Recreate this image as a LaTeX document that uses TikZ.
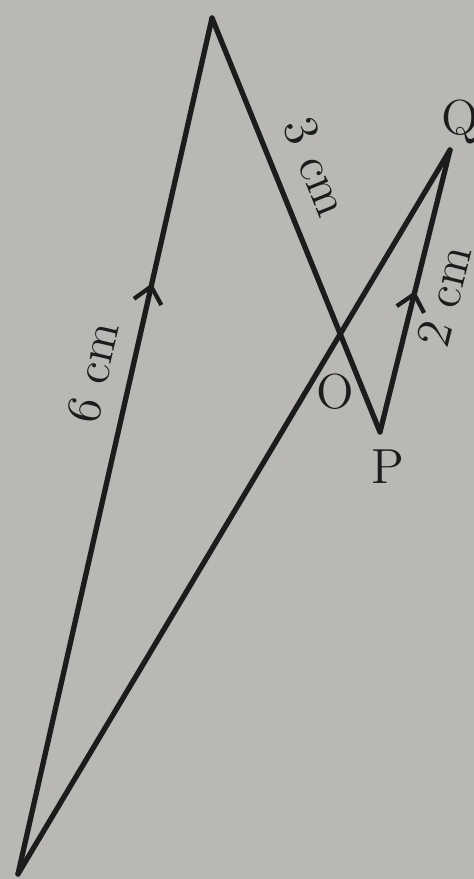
\documentclass[tikz,border=0pt]{standalone}
\usepackage{tikz}
\usetikzlibrary{arrows.meta,decorations.markings}

\definecolor{paper}{RGB}{186,184,181}
\definecolor{ink}{RGB}{28,28,28}

\tikzset{
  side/.style={ink, line width=1.5pt, line cap=round},
  midarrow/.style={postaction={decorate}, decoration={markings,
      mark=at position #1 with {\arrow{Straight Barb[length=4.5pt,width=8pt,line width=1.2pt]}}}},
  lbl/.style={text=ink, font=\fontsize{14}{17}\selectfont, inner sep=1pt}
}

\begin{document}
\begin{tikzpicture}[x=0.01cm, y=-0.01cm]
\fill[paper] (0,0) rectangle (474,879);
\useasboundingbox (0,0) rectangle (474,879);

% vertices
\coordinate (A) at (18,874);
\coordinate (B) at (212,18);
\coordinate (P) at (380,432);
\coordinate (Q) at (450,150);

% sides
\draw[side, midarrow=0.69] (A) -- (B);
\draw[side] (B) -- (P);
\draw[side, midarrow=0.5] (P) -- (Q);
\draw[side] (A) -- (Q);

% labels
\node[lbl] (lO) at (335,392) {O};
\node[lbl] (lP) at (388,467) {P};
\node[lbl] (lQ) at (460,122) {Q};
\node[lbl, rotate=77] (six) at (93,372) {6 cm};
\node[lbl, rotate=-68] (three) at (316,167) {3 cm};
\node[lbl, rotate=76] (two) at (444,296) {2 cm};
\end{tikzpicture}
\end{document}
